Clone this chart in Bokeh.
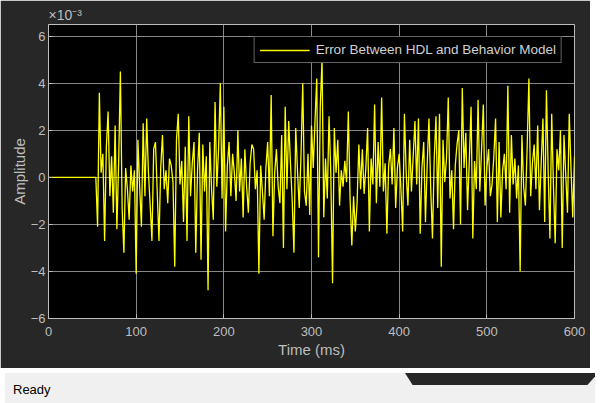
from bokeh.plotting import figure
from bokeh.models import FixedTicker, Legend, LegendItem, Div, ColumnDataSource, Range1d, Title
from bokeh.layouts import column
from bokeh.embed import file_html
from bokeh.resources import INLINE

# Time axis (ms) and amplitude values (units of 1e-3)
t_quiet = [0, 54]
amp_quiet = [0.0, 0.0]
t_start = 56
t_step = 2
amp_noise = [
    # 56 - 100
    -2.1, 3.6, 0.2, 1.0, -2.7, 1.3, 2.8, -0.8, 0.9, -1.5, 2.2, -2.2, 0.6, 4.5, -1.3, -3.2, 0.4, -0.5, -1.8, 0.5, -0.6, 0.3, -4.1,
    # 102 - 156
    1.6, -0.4, -2.1, 2.3, -0.8, 2.5, 0.2, -1.2, -2.7, 1.2, 1.5, -0.6, -2.7, 0.4, 1.8, -0.5, 0.3, -1.1, 0.8, 0.5, -0.2, -3.8, 1.6, 2.7, -0.3, 0.7, -1.9, 1.3,
    # 158 - 232
    -2.7, 2.6, -0.8, 0.6, 1.5, -3.2, 0.3, 1.9, -3.5, 1.4, -0.6, 0.9, -4.8, 1.5, -0.5, -1.8, 3.2, -0.4, 1.2, 4.0, -0.9, 3.0, -2.3, 0.5, 1.5, -0.8, 1.0, 0.2, -1.0, 2.0, -0.6, 0.8, -1.7, 1.2, -0.4, -1.5, 0.6, 1.4,
    # 234 - 326
    1.2, -0.5, 0.3, -4.1, 0.5, -0.6, -1.8, 0.4, 1.5, -0.8, 3.5, -2.5, 0.2, 1.2, -0.4, -1.1, 1.8, -3.0, 3.0, -0.5, 2.4, 0.6, -1.0, -3.2, 2.1, 0.3, -1.3, 0.9, 4.0, -0.6, -1.2, 1.0, -1.6, 2.2, 0.4, 2.4, 4.2, -3.4, 3.0, 5.0, -1.7, 0.8, -0.9, 2.6, 0.2, -4.5, 2.1,
    # 328 - 418
    0.2, 1.6, -1.2, 0.3, -0.4, 0.7, -0.2, 2.8, -0.9, -2.9, -0.8, -2.3, -1.1, 1.4, -0.5, 1.2, -0.7, 0.4, 2.1, -2.3, 0.8, -0.3, 3.1, -1.1, 1.5, -0.4, 3.4, -0.6, 0.6, -2.4, 0.5, 1.2, -0.3, 2.1, -1.3, 0.4, 1.0, -0.5, -2.3, 2.7, 0.2, -1.2, 1.6, -0.6, 0.9, 2.4,
    # 420 - 512
    -0.3, 2.5, -2.4, 0.4, 1.5, -1.9, 0.6, 2.5, -0.5, -2.6, 0.8, 2.6, -1.3, 2.7, -3.8, 1.6, -0.2, 0.8, 3.4, -0.9, 0.3, -2.2, 0.5, 1.4, 2.0, -2.0, 3.8, 0.4, 1.9, -1.4, 0.7, 3.0, -2.6, 0.7, -0.5, 3.3, -0.6, 1.2, 3.1, -1.2, 0.4, 1.2, -0.8, -0.3, 0.9, 2.5, -1.9,
    # 514 - 600
    1.5, -1.7, 0.3, 1.0, -0.5, 3.9, -1.5, 1.8, -0.3, 0.8, -0.9, 0.5, -4.0, 1.8, -0.4, -1.2, 1.3, 4.2, -0.8, 0.6, 1.4, -0.5, 2.2, -1.4, 0.6, 2.5, -1.9, 3.7, 0.2, -2.6, 2.7, -0.4, -2.8, 1.2, 0.3, 2.0, -3.0, 1.8, 0.1, -1.5, 2.7, 0.4, -1.7, 0.9,
]
x_ticks = [0, 100, 200, 300, 400, 500, 600]
y_ticks = [-6, -4, -2, 0, 2, 4, 6]
series_name = "Error Between HDL and Behavior Model"
exponent_text = "\u00d710\u207b\u00b3"

times = t_quiet + [t_start + t_step * i for i in range(len(amp_noise))]
amps = amp_quiet + amp_noise
src = ColumnDataSource(data=dict(t=times, a=amps))

TXT = "#bebebe"
FONT = "Liberation Sans"
EDGE = "#d9e3ee"
PANEL = "#272727"

p = figure(width=590, height=368, output_backend="svg", toolbar_location=None,
           x_range=Range1d(0, 600), y_range=Range1d(-6, 6.5),
           min_border_left=48, min_border_right=16, min_border_top=24, min_border_bottom=50)
p.background_fill_color = "black"
p.border_fill_color = PANEL
p.outline_line_color = "#bdbdbd"
p.outline_line_width = 1

r = p.line("t", "a", source=src, line_color="#ffff00", line_width=1.3)

for ax in (p.xaxis[0], p.yaxis[0]):
    ax.major_label_text_color = TXT
    ax.major_label_text_font = FONT
    ax.major_label_text_font_size = "13px"
    ax.axis_label_text_color = TXT
    ax.axis_label_text_font = FONT
    ax.axis_label_text_font_size = "15px"
    ax.axis_label_text_font_style = "normal"
    ax.axis_line_color = "#bdbdbd"
    ax.major_tick_line_color = "#bdbdbd"
    ax.major_tick_in = 4
    ax.major_tick_out = 0
    ax.minor_tick_line_color = None

p.xaxis.ticker = FixedTicker(ticks=x_ticks)
p.yaxis.ticker = FixedTicker(ticks=y_ticks)
p.xaxis.axis_label = "Time (ms)"
p.yaxis.axis_label = "Amplitude"
p.xaxis.major_label_standoff = 8
p.yaxis.major_label_standoff = 3
p.xaxis.axis_label_standoff = 2
p.yaxis.axis_label_standoff = 0

p.grid.grid_line_color = "#a0a0a0"
p.grid.grid_line_width = 1
p.grid.grid_line_alpha = 0.85
p.xgrid.ticker = FixedTicker(ticks=x_ticks)
p.ygrid.ticker = FixedTicker(ticks=y_ticks)

exp_title = Title(text=exponent_text, align="left", text_color=TXT, text_font=FONT,
                  text_font_size="14px", text_font_style="normal", standoff=3, offset=0)
p.add_layout(exp_title, "above")

legend = Legend(items=[LegendItem(label=series_name, renderers=[r])], location="top_right")
legend.background_fill_color = "black"
legend.background_fill_alpha = 1
legend.border_line_color = "#c8c8c8"
legend.border_line_width = 1
legend.label_text_color = "#d0d0d0"
legend.label_text_font = FONT
legend.label_text_font_size = "13.5px"
legend.glyph_width = 50
legend.glyph_height = 14
legend.label_height = 14
legend.padding = 5
legend.margin = 12
legend.label_standoff = 6
p.add_layout(legend)

notch = ('<div style="position:absolute; left:400px; top:0px; width:190px; height:12px; '
         'background:%s; clip-path: polygon(0 0, 100%% 0, 100%% 30%%, 96%% 100%%, 4%% 100%%);"></div>' % PANEL)
status = Div(text='<div style="position:relative; width:590px; height:30px;">' + notch +
             '<span style="position:absolute; left:8px; top:8px;">Ready</span></div>',
             width=590, height=30,
             styles={"background-color": "#f0f0f0", "color": "#000000",
                     "font-family": "Liberation Sans", "font-size": "13px"})
bottom_edge = Div(text="", width=590, height=5, styles={"background-color": EDGE})

layout = column(p, status, bottom_edge, spacing=0)
open("out.html", "w").write(file_html(layout, INLINE))
